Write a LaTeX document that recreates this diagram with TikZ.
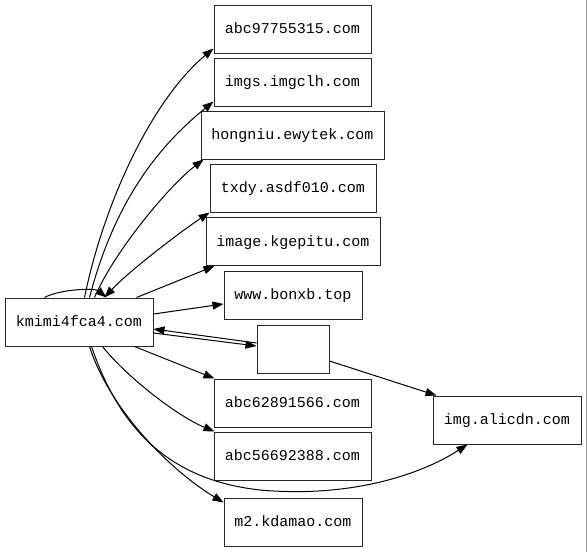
\documentclass[tikz,border=0pt]{standalone}
\usepackage{fontspec}
\setmonofont{Liberation Mono}
\usetikzlibrary{arrows.meta}
\tikzset{
  box/.style={draw=black!85, line width=1pt, rectangle, inner sep=0pt, minimum height=48pt,
    font=\ttfamily\fontsize{15pt}{15pt}\selectfont, text height=11pt, text depth=2pt},
  edge/.style={draw=black, line width=1pt, -{Triangle[length=11pt,width=8pt]}},
}
\begin{document}
\begin{tikzpicture}[x=1pt,y=-1pt]
\useasboundingbox (0,0) rectangle (587,552);
\fill[white] (0,0) rectangle (587,552);
\draw[gray!80, line width=1pt] (586.5,0) -- (586.5,552);

\node[box, minimum width=148pt] (k) at (79,322) {kmimi4fca4.com};
\node[box, minimum width=157pt] (a1) at (292.5,29) {abc97755315.com};
\node[box, minimum width=157pt] (a2) at (292.5,82) {imgs.imgclh.com};
\node[box, minimum width=183pt] (a3) at (292.5,135) {hongniu.ewytek.com};
\node[box, minimum width=166pt] (a4) at (293,188) {txdy.asdf010.com};
\node[box, minimum width=174pt] (a5) at (293,241.5) {image.kgepitu.com};
\node[box, minimum width=138pt] (a6) at (293,295) {www.bonxb.top};
\node[box, minimum width=72pt] (e) at (293,349) {};
\node[box, minimum width=157pt] (b1) at (292.5,403) {abc62891566.com};
\node[box, minimum width=157pt] (b2) at (292.5,456) {abc56692388.com};
\node[box, minimum width=138pt] (m) at (293,522) {m2.kdamao.com};
\node[box, minimum width=148pt] (al) at (507,420) {img.alicdn.com};

% self loop
\draw[edge] ([xshift=40pt]k.north west) .. controls (60,289) and (95,288) .. ([xshift=102pt]k.north west);
% upward edges
\draw[edge] ([xshift=80pt]k.north west) .. controls (105,198) and (154,98) .. ([yshift=5pt]a1.south west);
\draw[edge] ([xshift=85pt]k.north west) .. controls (115,200) and (159,146) .. ([yshift=5pt]a2.south west);
\draw[edge] ([xshift=90pt]k.north west) .. controls (115,250) and (170,185) .. ([xshift=3pt]a3.south west);
\draw[edge, {Triangle[length=11pt,width=8pt]}-{Triangle[length=11pt,width=8pt]}] ([xshift=100pt]k.north west) .. controls (128,272) and (180,232) .. (a4.south west);
\draw[edge] ([xshift=132pt]k.north west) -- ([xshift=9pt]a5.south west);
\draw[edge] ([yshift=8pt]k.east) -- ([yshift=-9pt]a6.west);
% empty node pair
\draw[edge] ([yshift=-11pt]k.east) -- ([yshift=3pt]e.west);
\draw[edge] ([yshift=6pt]e.west) -- ([yshift=-7pt]k.east);
% downward edges
\draw[edge] ([xshift=130pt]k.south west) -- ([xshift=1pt]b1.north west);
\draw[edge] ([xshift=98pt]k.south west) .. controls (125,375) and (175,415) .. ([xshift=1pt]b2.north west);
\draw[edge] ([xshift=85pt]k.south west) .. controls (110,410) and (170,470) .. ([yshift=-5pt]m.north west);
\draw[edge] ([xshift=87pt]k.south west) .. controls (120,430) and (170,480) .. (260,490) .. controls (350,498) and (420,475) .. ([xshift=35pt]al.south west);
\draw[edge] ([yshift=-12pt]e.east) -- ([xshift=4pt]al.north west);
\end{tikzpicture}
\end{document}
